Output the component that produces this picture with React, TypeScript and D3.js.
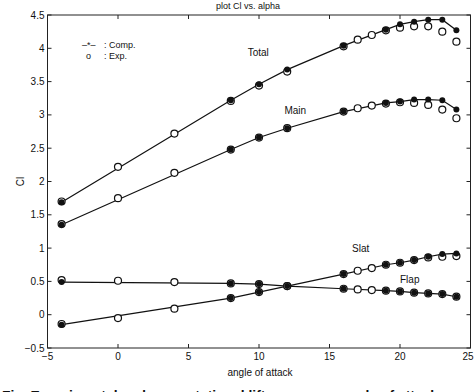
import { useEffect, useRef } from 'react';
import * as d3 from 'd3';

// angles of attack
const compAlpha = [-4, 8, 10, 12, 16, 19, 20, 21, 22, 23, 24];
const expAlpha = [-4, 0, 4, 8, 10, 12, 16, 17, 18, 19, 20, 21, 22, 23, 24];

// computed Cl
const totalComp = [1.69, 3.22, 3.46, 3.68, 4.04, 4.28, 4.36, 4.40, 4.43, 4.43, 4.27];
const mainComp = [1.35, 2.48, 2.66, 2.80, 3.05, 3.18, 3.20, 3.23, 3.23, 3.22, 3.08];
const slatComp = [-0.15, 0.25, 0.34, 0.43, 0.61, 0.75, 0.78, 0.82, 0.87, 0.91, 0.92];
const flapComp = [0.49, 0.47, 0.46, 0.43, 0.39, 0.36, 0.35, 0.33, 0.32, 0.31, 0.27];

// experimental Cl
const totalExp = [1.70, 2.22, 2.72, 3.21, 3.44, 3.65, 4.03, 4.13, 4.20, 4.27, 4.31, 4.33, 4.33, 4.25, 4.10];
const mainExp = [1.36, 1.75, 2.13, 2.48, 2.66, 2.80, 3.05, 3.10, 3.14, 3.17, 3.19, 3.18, 3.15, 3.08, 2.95];
const slatExp = [-0.14, -0.05, 0.09, 0.25, 0.34, 0.43, 0.61, 0.66, 0.70, 0.75, 0.78, 0.82, 0.86, 0.87, 0.88];
const flapExp = [0.52, 0.51, 0.49, 0.47, 0.46, 0.43, 0.39, 0.38, 0.37, 0.36, 0.35, 0.33, 0.32, 0.31, 0.27];

const xTicks = [-5, 0, 5, 10, 15, 20, 25];
const yTicks = [-0.5, 0, 0.5, 1, 1.5, 2, 2.5, 3, 3.5, 4, 4.5];

const labels = [
  { text: 'Total', a: 9.2, v: 3.88 },
  { text: 'Main', a: 11.8, v: 3.01 },
  { text: 'Slat', a: 16.6, v: 0.94 },
  { text: 'Flap', a: 20.0, v: 0.47 },
];

export default function App() {
  const svgRef = useRef<SVGSVGElement>(null);

  useEffect(() => {
    if (!svgRef.current) return;
    const W = 474;
    const H = 392;
    const svg = d3.select(svgRef.current);
    svg.selectAll('*').remove();
    svg.attr('width', W).attr('height', H);

    const font = 'Liberation Sans, Arial, sans-serif';
    const x = d3.scaleLinear().domain([-5, 25]).range([47.5, 470.5]);
    const y = d3.scaleLinear().domain([-0.5, 4.5]).range([348, 15]);

    svg.append('rect').attr('width', W).attr('height', H).attr('fill', '#fff');

    const g = svg.append('g');

    // box
    g.append('rect')
      .attr('x', x(-5)).attr('y', y(4.5))
      .attr('width', x(25) - x(-5)).attr('height', y(-0.5) - y(4.5))
      .attr('fill', 'none').attr('stroke', '#222').attr('stroke-width', 1);

    // inward ticks
    const tl = 4;
    g.selectAll('.xt-b').data(xTicks).join('line')
      .attr('x1', (d) => x(d)).attr('x2', (d) => x(d))
      .attr('y1', y(-0.5)).attr('y2', y(-0.5) - tl)
      .attr('stroke', '#222');
    g.selectAll('.xt-t').data(xTicks).join('line')
      .attr('x1', (d) => x(d)).attr('x2', (d) => x(d))
      .attr('y1', y(4.5)).attr('y2', y(4.5) + tl)
      .attr('stroke', '#222');
    g.selectAll('.yt-l').data(yTicks).join('line')
      .attr('x1', x(-5)).attr('x2', x(-5) + tl)
      .attr('y1', (d) => y(d)).attr('y2', (d) => y(d))
      .attr('stroke', '#222');
    g.selectAll('.yt-r').data(yTicks).join('line')
      .attr('x1', x(25)).attr('x2', x(25) - tl)
      .attr('y1', (d) => y(d)).attr('y2', (d) => y(d))
      .attr('stroke', '#222');

    // tick labels
    g.selectAll('.xl').data(xTicks).join('text')
      .attr('x', (d) => x(d)).attr('y', 360)
      .attr('text-anchor', (d) => (d === 25 ? 'end' : 'middle'))
      .attr('dx', (d) => (d === 25 ? 3 : 0))
      .attr('font-family', font).attr('font-size', 10).attr('fill', '#111')
      .text((d) => (d < 0 ? `\u2212${-d}` : `${d}`));
    g.selectAll('.yl').data(yTicks).join('text')
      .attr('x', x(-5) - 3).attr('y', (d) => y(d) + 3.5)
      .attr('text-anchor', 'end')
      .attr('font-family', font).attr('font-size', 10).attr('fill', '#111')
      .text((d) => (d < 0 ? `\u2212${-d}` : `${d}`));

    // titles
    g.append('text').attr('x', 248).attr('y', 9)
      .attr('text-anchor', 'middle').attr('font-family', font).attr('font-size', 9)
      .attr('fill', '#111').text('plot Cl vs. alpha');
    g.append('text').attr('x', 260).attr('y', 376)
      .attr('text-anchor', 'middle').attr('font-family', font).attr('font-size', 10)
      .attr('fill', '#111').text('angle of attack');
    g.append('text')
      .attr('transform', `translate(24,${y(2)}) rotate(-90)`)
      .attr('text-anchor', 'middle').attr('font-family', font).attr('font-size', 10)
      .attr('fill', '#111').text('Cl');

    // caption (cut off by the page edge, as in the scan)
    g.append('text').attr('x', 2).attr('y', 400.5)
      .attr('font-family', font).attr('font-size', 15).attr('font-weight', 'bold')
      .attr('fill', '#111')
      .attr('textLength', 436).attr('lengthAdjust', 'spacingAndGlyphs')
      .text('Fig. Experimental and computational lift curves vs. angle of attack');

    // legend
    const legend = [
      { sym: '\u2013*\u2013', sx: 82, txt: ': Comp.', y: 48 },
      { sym: 'o', sx: 86, txt: ': Exp.', y: 59 },
    ];
    legend.forEach((l) => {
      g.append('text').attr('x', l.sx).attr('y', l.y)
        .attr('font-family', font).attr('font-size', 9).attr('fill', '#111')
        .text(l.sym);
      g.append('text').attr('x', 104).attr('y', l.y)
        .attr('font-family', font).attr('font-size', 9).attr('fill', '#111')
        .text(l.txt);
    });

    const series = [
      { comp: totalComp, exp: totalExp },
      { comp: mainComp, exp: mainExp },
      { comp: slatComp, exp: slatExp },
      { comp: flapComp, exp: flapExp },
    ];

    const line = d3.line<number>()
      .x((_, i) => x(compAlpha[i]))
      .y((d) => y(d));

    series.forEach((s) => {
      g.append('path').datum(s.comp)
        .attr('d', line)
        .attr('fill', 'none').attr('stroke', '#111').attr('stroke-width', 1.2);

      g.selectAll(null).data(s.exp).join('circle')
        .attr('cx', (_, i) => x(expAlpha[i]))
        .attr('cy', (d) => y(d))
        .attr('r', 3.5)
        .attr('fill', '#fff').attr('stroke', '#111').attr('stroke-width', 1.2);

      g.selectAll(null).data(s.comp).join('circle')
        .attr('cx', (_, i) => x(compAlpha[i]))
        .attr('cy', (d) => y(d))
        .attr('r', 3)
        .attr('fill', '#111');
    });

    g.selectAll('.lab').data(labels).join('text')
      .attr('x', (d) => x(d.a)).attr('y', (d) => y(d.v))
      .attr('font-family', font).attr('font-size', 10).attr('fill', '#111')
      .text((d) => d.text);
  }, []);

  return (
    <div style={{ position: 'absolute', left: 0, top: 0 }}>
      <svg ref={svgRef} style={{ display: 'block' }} />
    </div>
  );
}
